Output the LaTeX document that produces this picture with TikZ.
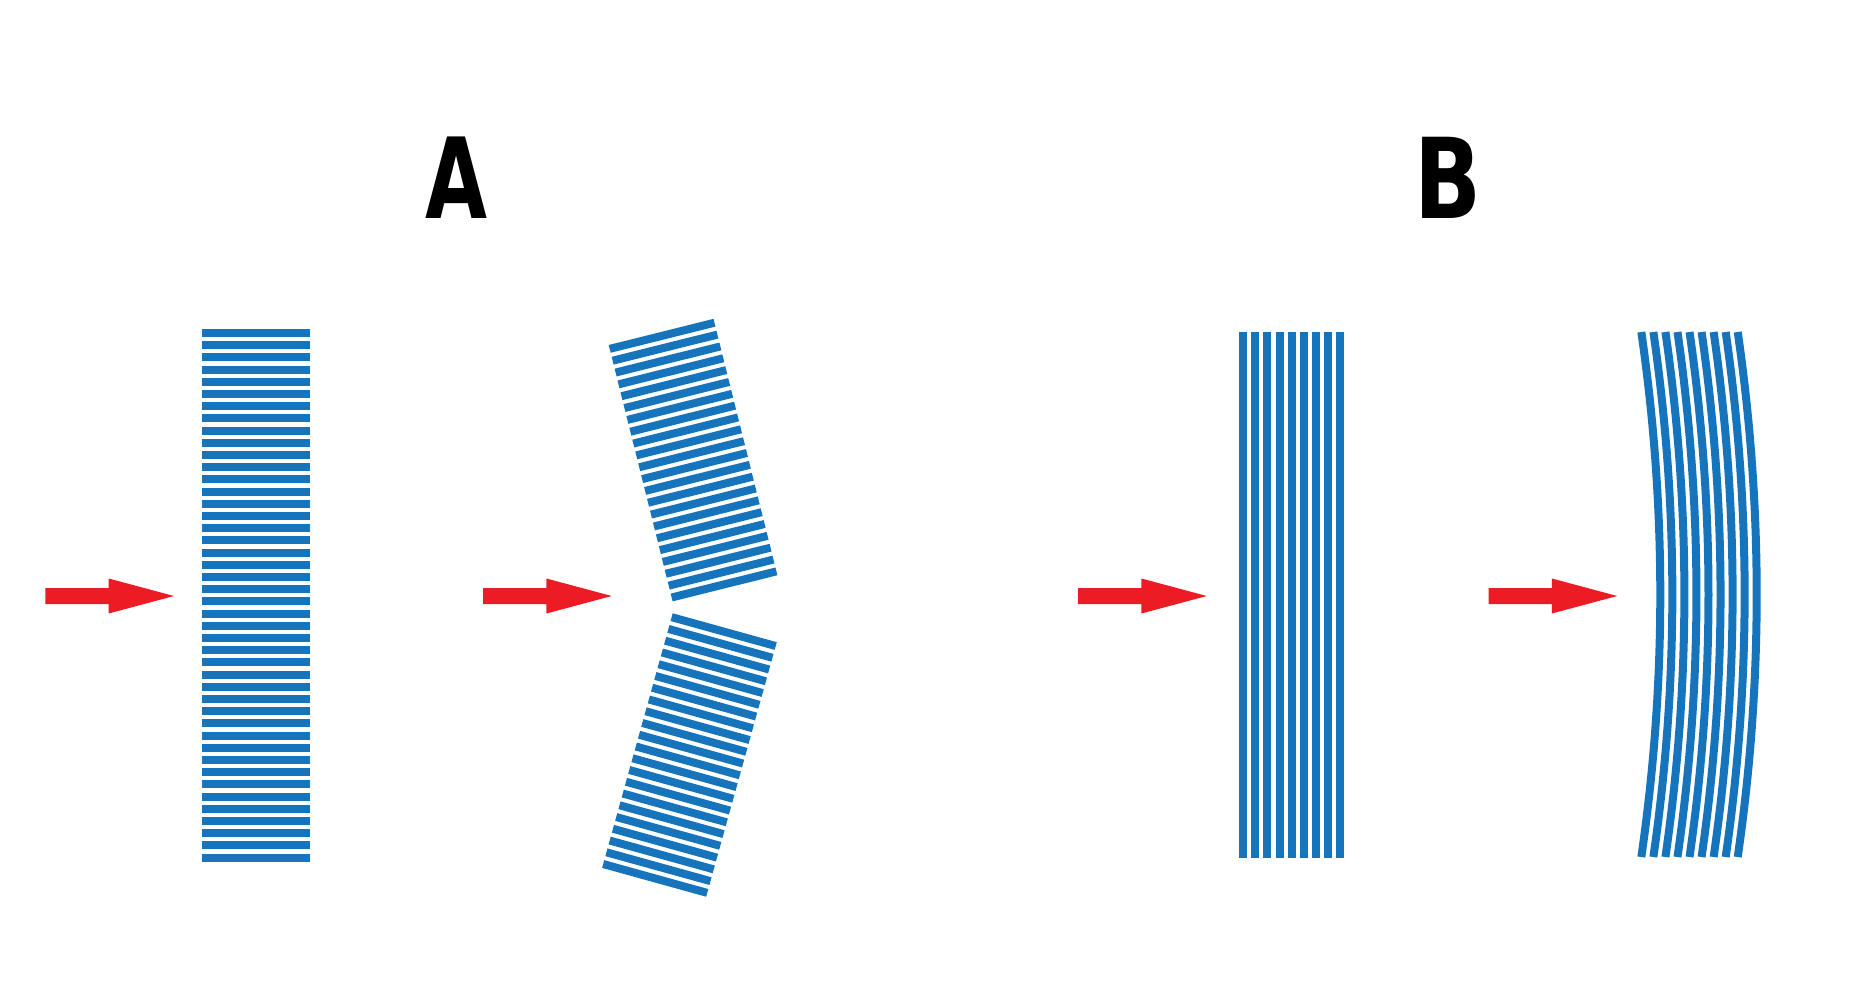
\documentclass[tikz,border=0pt]{standalone}
\usepackage{graphicx}
\usepackage{fontspec}
\setmainfont{DejaVu Sans}
\definecolor{barblue}{RGB}{22,116,188}
\definecolor{arrred}{RGB}{236,28,36}
\begin{document}
\begin{tikzpicture}[x=0.02cm,y=-0.02cm,
  barfill/.style={fill=barblue},
  redarrow/.style={fill=arrred},
  strip/.style={draw=barblue,line width=0.16cm},
  letter/.style={inner sep=0pt,text=black}]
\useasboundingbox (0,0) rectangle (1858,983);
% red arrows
\foreach \ax in {45.3,483,1078,1488.5}{
  \fill[redarrow] (\ax,588) -- (\ax+63.4,588) -- (\ax+63.4,578.5) -- (\ax+128.7,596)
     -- (\ax+63.4,613.5) -- (\ax+63.4,604) -- (\ax,604) -- cycle;
}
% panel A, straight stack
\foreach \k in {0,...,43}{
  \fill[barfill] (202,329+12.2*\k) rectangle (310,337+12.2*\k);
}
% panel A, upper tilted stack
\begin{scope}[shift={(608.7,345)},rotate=14]
  \foreach \k in {0,...,21}{
    \fill[barfill] (0,12.2*\k) rectangle (108,12.2*\k+8);
  }
\end{scope}
% panel A, lower tilted stack
\begin{scope}[shift={(672.7,613.3)},rotate=-15.5]
  \foreach \k in {0,...,21}{
    \fill[barfill] (0,12.2*\k) rectangle (108,12.2*\k+8);
  }
\end{scope}
% panel B, straight lines
\foreach \k in {0,...,8}{
  \draw[strip] (1243.3+12.08*\k,332) -- (1243.3+12.08*\k,858);
}
% panel B, curved lines
\foreach \k in {0,...,8}{
  \draw[strip] (1641.3+12.05*\k,332) .. controls (1666.6+12.05*\k,507) and (1666.6+12.05*\k,682) .. (1641.3+12.05*\k,857);
}
% labels
\node[letter] (A) at (456.2,177.5) {\resizebox{1.24cm}{1.632cm}{\bfseries A}};
\node[letter] (B) at (1447.5,177.4) {\resizebox{1.34cm}{1.626cm}{\bfseries B}};
\end{tikzpicture}
\end{document}
